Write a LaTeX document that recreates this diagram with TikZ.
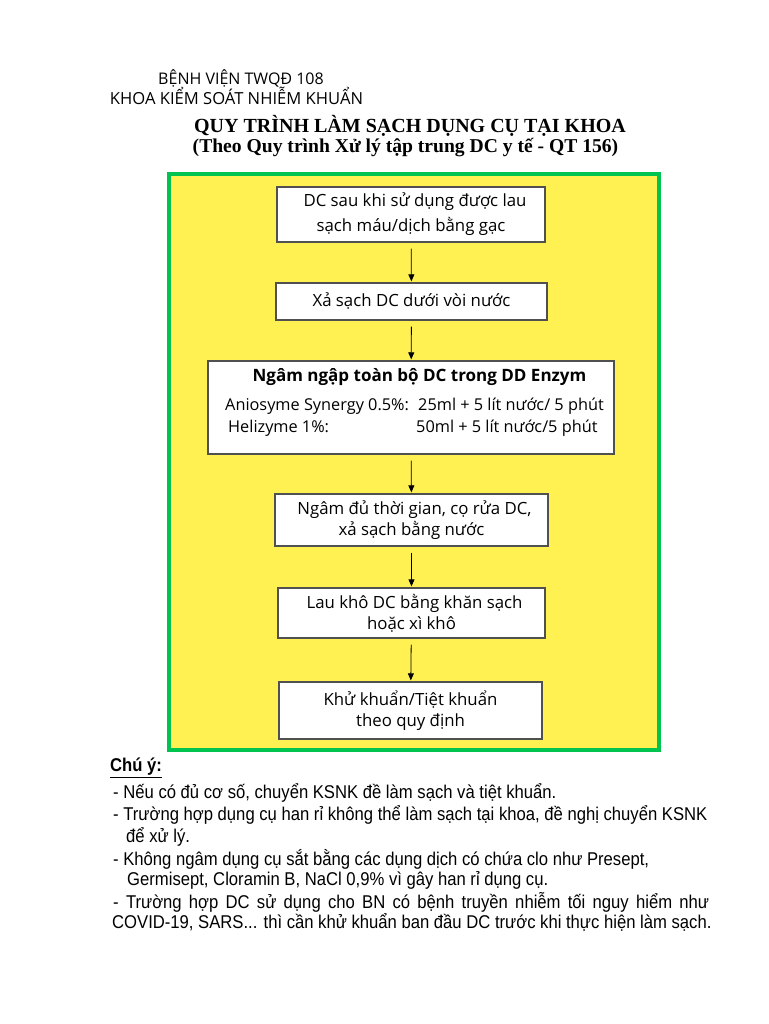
\documentclass[tikz,border=0pt]{standalone}
\usepackage{fontspec}
\setmainfont{Open Sans}
\newfontfamily\titlefont{Liberation Serif}
\newfontfamily\notefont[FakeStretch=0.9]{Liberation Sans}
\usetikzlibrary{arrows.meta}
\definecolor{frameyellow}{RGB}{255,241,82}
\definecolor{framegreen}{RGB}{0,195,80}
\definecolor{boxline}{RGB}{80,80,80}
\begin{document}
\begin{tikzpicture}[x=1pt,y=-1pt,
  stepbox/.style={draw=boxline,fill=white,line width=1.3pt,align=center,inner sep=0pt,
     font=\fontsize{16.8}{21}\selectfont},
  flow/.style={-{Triangle[length=7pt,width=6pt]},line width=0.8pt,shorten <=6pt,shorten >=1pt},
  hdr/.style={font=\fontsize{16}{18}\selectfont},
  ttl/.style={font=\titlefont\bfseries\fontsize{20}{22}\selectfont},
  note/.style={anchor=west,inner sep=0pt,font=\notefont\fontsize{18.5}{22}\selectfont},
  inl/.style={anchor=west,inner sep=0pt,font=\fontsize{16.3}{19}\selectfont}
]
\useasboundingbox (0,0) rectangle (768,1024);
\fill[white] (0,0) rectangle (768,1024);
% header
\node[hdr] (h1) at (241,78) {BỆNH VIỆN TWQĐ 108};
\node[hdr,font=\fontsize{16.6}{18}\selectfont] (h2) at (236.5,96) {KHOA KIỂM SOÁT NHIỄM KHUẨN};
\node[ttl] (t1) at (410,126) {QUY TRÌNH LÀM SẠCH DỤNG CỤ TẠI KHOA};
\node[ttl,font=\titlefont\bfseries\fontsize{19.6}{22}\selectfont] (t2) at (405.5,148) {(Theo Quy trình Xử lý tập trung DC y tế - QT 156)};
% frame
\node[draw=framegreen,fill=frameyellow,line width=4pt,minimum width=490pt,minimum height=576pt,inner sep=0pt] (frame) at (414,462) {};
% boxes
\node[stepbox,minimum width=268pt,minimum height=55pt] (b1) at (411,214.5) {\hspace*{8pt}DC sau khi sử dụng được lau\\[4pt]sạch máu/dịch bằng gạc};
\node[stepbox,minimum width=271pt,minimum height=37pt] (b2) at (411.5,301.5) {Xả sạch DC dưới vòi nước};
\node[stepbox,minimum width=406pt,minimum height=93pt] (b3) at (411,407.5) {};
\node[anchor=center,inner sep=0pt,font=\bfseries\fontsize{17}{19}\selectfont] (b3t) at (419.5,377) {Ngâm ngập toàn bộ DC trong DD Enzym};
\node[inl] (b3a) at (225,406) {Aniosyme Synergy 0.5\%:};
\node[inl] (b3b) at (418,406) {25ml + 5 lít nước/ 5 phút};
\node[inl] (b3c) at (228,428) {Helizyme 1\%:};
\node[inl] (b3d) at (416,428) {50ml + 5 lít nước/5 phút};
\node[stepbox,minimum width=273pt,minimum height=52pt] (b4) at (411.5,520) {\hspace*{6pt}Ngâm đủ thời gian, cọ rửa DC,\\xả sạch bằng nước};
\node[stepbox,minimum width=267pt,minimum height=50pt] (b5) at (411.5,613) {\hspace*{6pt}Lau khô DC bằng khăn sạch\\hoặc xì khô};
\node[stepbox,minimum width=263pt,minimum height=57pt] (b6) at (410.5,710.5) {Khử khuẩn/Tiệt khuẩn\\theo quy định};
% arrows
\draw[flow] (b1) -- (b2);
\draw[flow] (b2) -- (b3);
\draw[flow] (b3) -- (b4);
\draw[flow] (b4) -- (b5);
\draw[flow] (b5) -- (b6);
% notes
\node[note,font=\notefont\bfseries\fontsize{18.5}{22}\selectfont] (n0) at (110,768) {\underline{Chú ý:}};
\node[note] (n1) at (113,793) {- Nếu có đủ cơ số, chuyển KSNK đề làm sạch và tiệt khuẩn.};
\node[note] (n2) at (113,815) {- Trường hợp dụng cụ han rỉ không thể làm sạch tại khoa, đề nghị chuyển KSNK};
\node[note] (n3) at (126,837) {để xử lý.};
\node[note] (n4) at (113,859) {- Không ngâm dụng cụ sắt bằng các dụng dịch có chứa clo như Presept,};
\node[note] (n5) at (127,880) {Germisept, Cloramin B, NaCl 0,9\% vì gây han rỉ dụng cụ.};
\node[note] (n6) at (113,902) {\makebox[596pt][s]{- Trường hợp DC sử dụng cho BN có bệnh truyền nhiễm tối nguy hiểm như}};
\node[note] (n7) at (112,922) {COVID-19, SARS... thì cần khử khuẩn ban đầu DC trước khi thực hiện làm sạch.};
\end{tikzpicture}
\end{document}
